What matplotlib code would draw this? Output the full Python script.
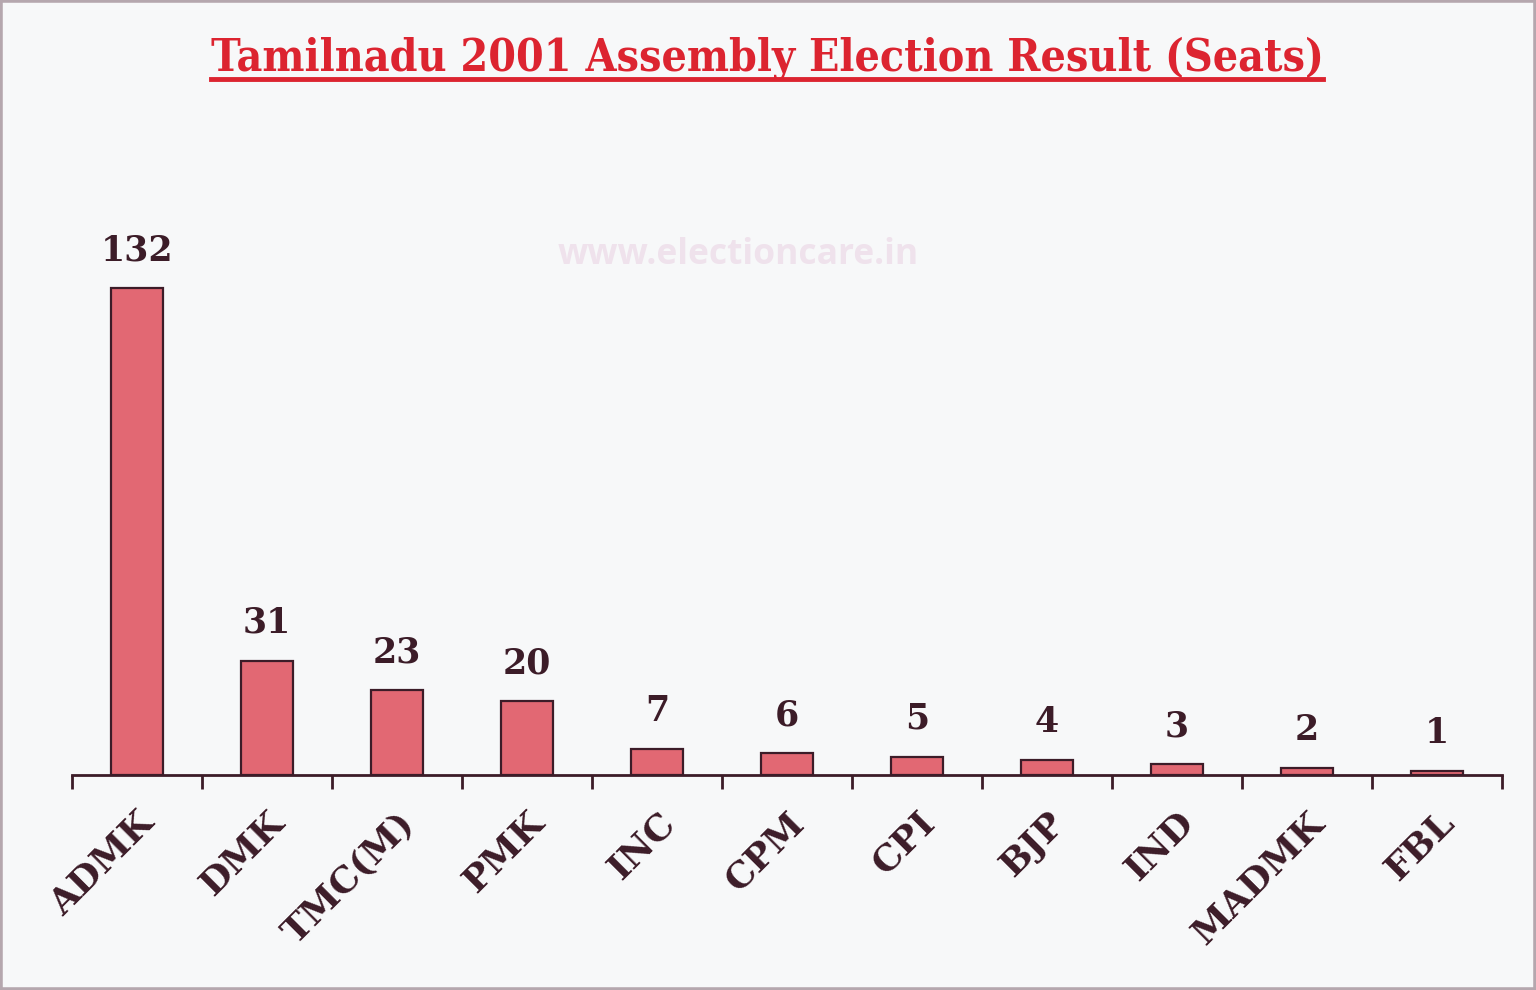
import matplotlib
matplotlib.use("Agg")
import matplotlib.pyplot as plt
from matplotlib.lines import Line2D
from matplotlib.patches import Rectangle

parties = ["ADMK", "DMK", "TMC(M)", "PMK", "INC", "CPM", "CPI", "BJP", "IND", "MADMK", "FBL"]
seats = [132, 31, 23, 20, 7, 6, 5, 4, 3, 2, 1]

BAR = "#e26873"
DARK = "#3c1c28"
BG = "#f7f8f9"
RED = "#dc2430"

plt.rcParams["font.family"] = ["DejaVu Serif"]

fig = plt.figure(figsize=(15.36, 9.9), dpi=100, facecolor=BG)
ax = fig.add_axes([72 / 1536, 215 / 990, 1430 / 1536, 590 / 990])
ax.set_facecolor(BG)

x = list(range(len(parties)))
ax.bar(x, seats, width=0.4, color=BAR, edgecolor=DARK, linewidth=1.6, zorder=3)
for xi, v in zip(x, seats):
    ax.annotate(str(v), (xi, v), xytext=(0, 15), textcoords="offset points",
                ha="center", va="bottom", fontsize=25, fontweight="bold", color=DARK)

ax.set_xlim(-0.5, len(parties) - 0.5)
ax.set_ylim(0, 160)
ax.set_yticks([])
for s in ["left", "right", "top"]:
    ax.spines[s].set_visible(False)
ax.spines["bottom"].set_color(DARK)
ax.spines["bottom"].set_linewidth(2)

# ticks sit on the category boundaries, labels at the bar centres
ax.set_xticks([i - 0.5 for i in range(len(parties) + 1)])
ax.set_xticklabels([])
ax.tick_params(axis="x", which="major", direction="out", length=10, width=2, color=DARK)
ax.set_xticks(x, minor=True)
ax.set_xticklabels(parties, minor=True, rotation=45, ha="right", rotation_mode="anchor",
                   fontsize=26, fontweight="bold", color=DARK)
ax.tick_params(axis="x", which="minor", length=0, pad=22)

fig.text(738 / 1536, 1 - 255 / 990, "www.electioncare.in", ha="center", va="center",
         fontsize=25.5, fontweight="bold", color="#efe2ec", family="Open Sans")

title = fig.text(767 / 1536, 1 - 58 / 990, "Tamilnadu 2001 Assembly Election Result (Seats)",
                 ha="center", va="center", fontsize=31, fontweight="bold", color=RED,
                 fontstretch="condensed")
fig.canvas.draw()
w = title.get_window_extent().width
title.set_fontsize(31 * 1110 / w)
fig.canvas.draw()
bb = title.get_window_extent().transformed(fig.transFigure.inverted())
fig.add_artist(Line2D([bb.x0, bb.x1], [1 - 79 / 990] * 2, color=RED, linewidth=3.5))

fig.add_artist(Rectangle((0, 0), 1, 1, transform=fig.transFigure, fill=False,
                         edgecolor="#b5a7ae", linewidth=4))

fig.savefig("out.png", dpi=100, facecolor=BG)
